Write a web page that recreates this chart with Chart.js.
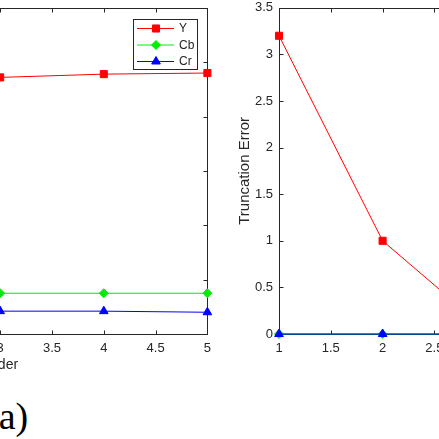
<!DOCTYPE html>
<html><head><meta charset="utf-8">
<script src="https://cdn.jsdelivr.net/npm/chart.js@4.4.1/dist/chart.umd.min.js"></script>
<style>
html,body{margin:0;padding:0;background:#fff;width:439px;height:439px;overflow:hidden;position:relative}
canvas{position:absolute}
#left{left:-254px;top:-6px}
#right{left:232px;top:-6px}
#tag{position:absolute;left:-14px;top:397px;font-family:'Liberation Serif',serif;font-size:38px;line-height:1;color:#000;white-space:nowrap}
</style></head><body>
<canvas id="left" width="472" height="384"></canvas>
<canvas id="right" width="472" height="384"></canvas>
<div id="tag">(a)</div>
<script>
// ---- data ----
const orders = [1, 2, 3, 4, 5];
const seriesNames = ['Y', 'Cb', 'Cr'];
const leftY  = [2.28, 2.33, 2.36, 2.39, 2.40];
const leftCb = [0.375, 0.375, 0.375, 0.375, 0.375];
const leftCr = [0.21, 0.21, 0.21, 0.21, 0.20];
const rightY  = [3.2, 1.0, 0.05, 0.01, 0.0];
const rightCb = [0, 0, 0, 0, 0];
const rightCr = [0, 0, 0, 0, 0];
const xTitle = 'Order';
const rightYTitle = 'Truncation Error';
const leftYTitle = 'Truncation Error';

const AX = '#262626';
const FONT = '"Liberation Sans", Arial, sans-serif';
const colors = ['#ff0000', '#00ee00', '#0000ff'];
const styles = ['rect', 'rectRot', 'triangle'];
const radii = [5, 4.5, 5];

function makeDatasets(arrs) {
  return arrs.map((vals, i) => ({
    label: seriesNames[i],
    data: orders.map((o, k) => ({x: o, y: vals[k]})),
    borderColor: colors[i],
    backgroundColor: colors[i],
    pointBackgroundColor: colors[i],
    pointBorderColor: colors[i],
    pointStyle: styles[i],
    pointRadius: radii[i],
    pointBorderWidth: 1,
    borderWidth: 1,
    tension: 0,
    clip: false,
    order: 3 - i
  }));
}

const boxPlugin = {
  id: 'box',
  beforeDatasetsDraw(chart) {
    const {ctx, chartArea: a, scales: {x, y}} = chart;
    ctx.save();
    ctx.strokeStyle = AX; ctx.lineWidth = 1;
    const l = Math.round(a.left) + 0.5, t = Math.round(a.top) + 0.5;
    const r = Math.round(a.right) + 0.5, b = Math.round(a.bottom) + 0.5;
    ctx.strokeRect(l, t, r - l, b - t);
    const L = 4;
    ctx.beginPath();
    x.ticks.forEach(tk => {
      const px = Math.round(x.getPixelForValue(tk.value)) + 0.5;
      ctx.moveTo(px, b); ctx.lineTo(px, b - L);
      ctx.moveTo(px, t); ctx.lineTo(px, t + L);
    });
    y.ticks.forEach(tk => {
      const py = Math.round(y.getPixelForValue(tk.value)) + 0.5;
      ctx.moveTo(l, py); ctx.lineTo(l + L, py);
      ctx.moveTo(r, py); ctx.lineTo(r - L, py);
    });
    ctx.stroke();
    ctx.restore();
  },
  afterDraw(chart, args, opts) {
    if (!opts || !opts.legend) return;
    const {ctx, chartArea: a} = chart;
    const w = 64, h = 50;
    const bx = Math.round(a.right) - 10 - w, by = Math.round(a.top) + 11;
    ctx.save();
    ctx.fillStyle = '#fff'; ctx.fillRect(bx, by, w, h);
    ctx.strokeStyle = AX; ctx.lineWidth = 1; ctx.strokeRect(bx + 0.5, by + 0.5, w, h);
    chart.data.datasets.forEach((ds, i) => {
      const yy = by + 9.5 + i * 16.5;
      ctx.strokeStyle = ds.borderColor; ctx.lineWidth = 1;
      ctx.beginPath(); ctx.moveTo(bx + 4, yy); ctx.lineTo(bx + 41, yy); ctx.stroke();
      ctx.fillStyle = ds.pointBackgroundColor;
      Chart.helpers.drawPoint(ctx, {pointStyle: ds.pointStyle, radius: ds.pointRadius, borderWidth: 1, rotation: 0}, bx + 23, yy);
      ctx.fillStyle = AX;
      ctx.font = '12px ' + FONT;
      ctx.textBaseline = 'middle'; ctx.textAlign = 'left';
      ctx.fillText(ds.label, bx + 46, yy + 0.5);
    });
    ctx.restore();
  }
};

function makeChart(id, arrs, yMax, yTitle, legend) {
  return new Chart(document.getElementById(id), {
    type: 'line',
    data: {datasets: makeDatasets(arrs)},
    plugins: [boxPlugin],
    options: {
      responsive: false,
      animation: false,
      devicePixelRatio: 1,
      layout: {padding: {top: 10, right: 10, left: 0, bottom: 0}},
      plugins: {legend: {display: false}, tooltip: {enabled: false}, box: {legend: legend}},
      scales: {
        x: {
          type: 'linear', min: 1, max: 5,
          grid: {display: false, drawTicks: false}, border: {display: false},
          ticks: {stepSize: 0.5, padding: 7, color: AX, font: {family: FONT, size: 13}, callback: v => String(v), maxRotation: 0},
          title: {display: true, text: xTitle, color: AX, font: {family: FONT, size: 14}},
          afterFit: s => { s.height = 44; }
        },
        y: {
          type: 'linear', min: 0, max: yMax,
          grid: {display: false, drawTicks: false}, border: {display: false},
          ticks: {stepSize: 0.5, padding: 6, color: AX, font: {family: FONT, size: 13}, callback: v => String(v)},
          title: {display: true, text: yTitle, color: AX, font: {family: FONT, size: 15}},
          afterFit: s => { s.width = 47; }
        }
      }
    }
  });
}

makeChart('left', [leftY, leftCb, leftCr], 3, leftYTitle, true);
makeChart('right', [rightY, rightCb, rightCr], 3.5, rightYTitle, false);
</script>
</body></html>
